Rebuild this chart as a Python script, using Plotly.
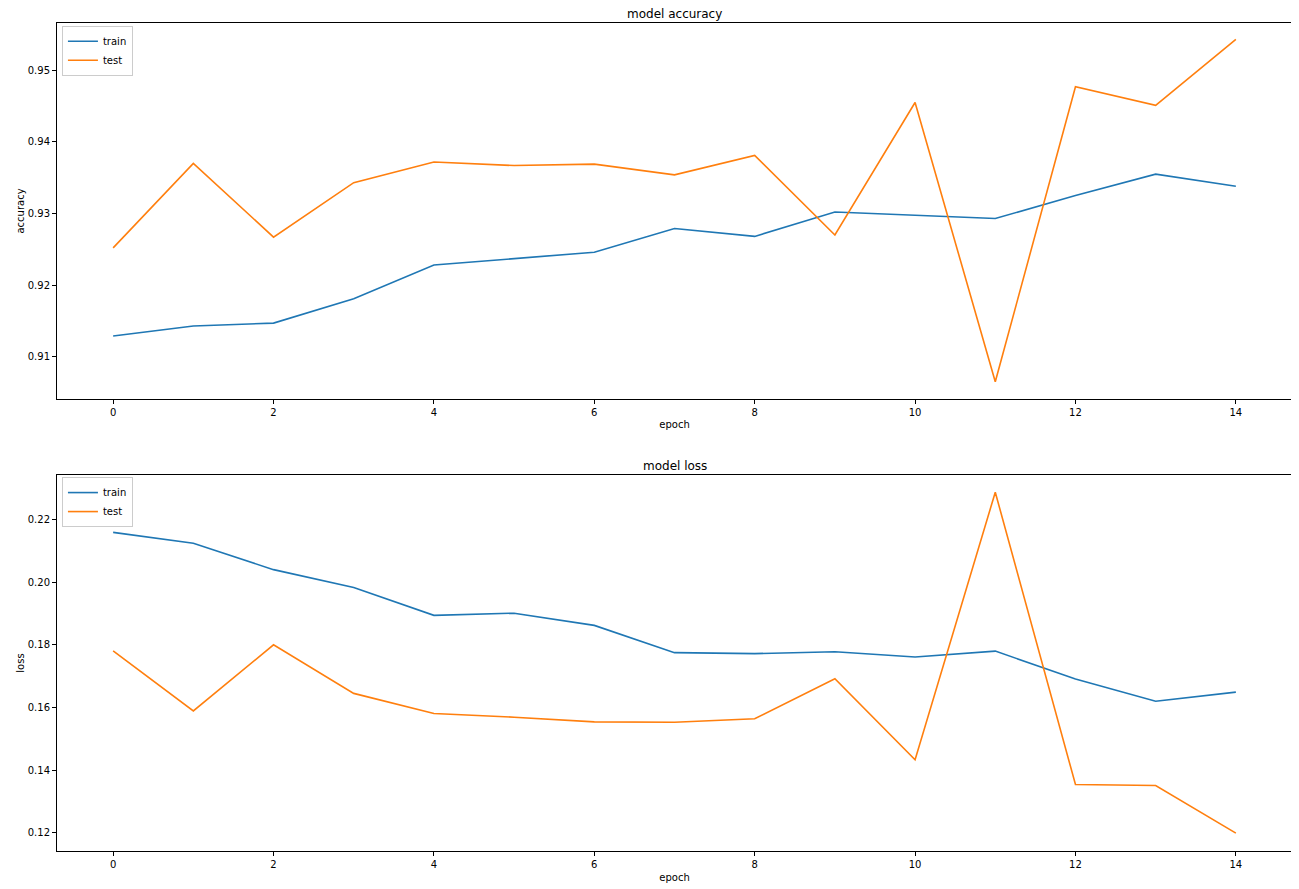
import plotly.graph_objs as go
from plotly.subplots import make_subplots

epochs = list(range(15))

acc_train = [0.9129, 0.9143, 0.9147, 0.9181, 0.9228, 0.9237, 0.9246, 0.9279,
             0.9268, 0.9302, 0.9297, 0.9293, 0.9325, 0.9355, 0.9338]
acc_test = [0.9252, 0.9370, 0.9267, 0.9343, 0.9372, 0.9367, 0.9369, 0.9354,
            0.9381, 0.9270, 0.9455, 0.9065, 0.9477, 0.9451, 0.9543]

loss_train = [0.2159, 0.2124, 0.2040, 0.1983, 0.1894, 0.1901, 0.1862, 0.1775,
              0.1772, 0.1778, 0.1761, 0.1780, 0.1691, 0.1620, 0.1649]
loss_test = [0.1781, 0.1589, 0.1800, 0.1645, 0.1581, 0.1569, 0.1554, 0.1553,
             0.1564, 0.1692, 0.1433, 0.2287, 0.1354, 0.1351, 0.1199]

blue = '#1f77b4'
orange = '#ff7f0e'
font = 'DejaVu Sans'

fig = make_subplots(rows=2, cols=1, vertical_spacing=0.0918,
                    subplot_titles=('model accuracy', 'model loss'))

fig.add_trace(go.Scatter(x=epochs, y=acc_train, mode='lines', name='train',
                         line=dict(color=blue, width=1.6), legend='legend'), row=1, col=1)
fig.add_trace(go.Scatter(x=epochs, y=acc_test, mode='lines', name='test',
                         line=dict(color=orange, width=1.6), legend='legend'), row=1, col=1)
fig.add_trace(go.Scatter(x=epochs, y=loss_train, mode='lines', name='train',
                         line=dict(color=blue, width=1.6), legend='legend2'), row=2, col=1)
fig.add_trace(go.Scatter(x=epochs, y=loss_test, mode='lines', name='test',
                         line=dict(color=orange, width=1.6), legend='legend2'), row=2, col=1)

axis_style = dict(showline=True, linecolor='black', linewidth=1, mirror=True,
                  ticks='outside', ticklen=4, tickcolor='black', showgrid=False,
                  zeroline=False, tickfont=dict(size=10, color='black'))

fig.update_xaxes(range=[-0.7, 14.7], tickvals=list(range(0, 15, 2)),
                 title=dict(text='epoch', font=dict(size=10, color='black'), standoff=4),
                 **axis_style)
fig.update_yaxes(range=[0.9041, 0.9566], tickvals=[0.91, 0.92, 0.93, 0.94, 0.95],
                 tickformat='.2f',
                 title=dict(text='accuracy', font=dict(size=10, color='black'), standoff=1),
                 row=1, col=1, **axis_style)
fig.update_yaxes(range=[0.1142, 0.2342], tickvals=[0.12, 0.14, 0.16, 0.18, 0.20, 0.22],
                 tickformat='.2f',
                 title=dict(text='loss', font=dict(size=10, color='black'), standoff=1),
                 row=2, col=1, **axis_style)

for ann in fig.layout.annotations:
    ann.font = dict(size=12, color='black', family=font)
    ann.yshift = 0

legend_style = dict(x=0.004, xanchor='left', yanchor='top', bgcolor='rgba(255,255,255,0.8)',
                    bordercolor='#cccccc', borderwidth=1, font=dict(size=10, color='black'),
                    itemwidth=30, tracegroupgap=0)

# the page body adds an 8px offset, so margins are trimmed to keep the axes in place
fig.update_layout(
    width=1299, height=889,
    margin=dict(l=42, r=15, t=15, b=46),
    paper_bgcolor='white', plot_bgcolor='white',
    font=dict(family=font, size=10, color='black'),
    legend=dict(y=0.9966, **legend_style),
    legend2=dict(y=0.4516, **legend_style),
)

fig.write_html('out.html')
